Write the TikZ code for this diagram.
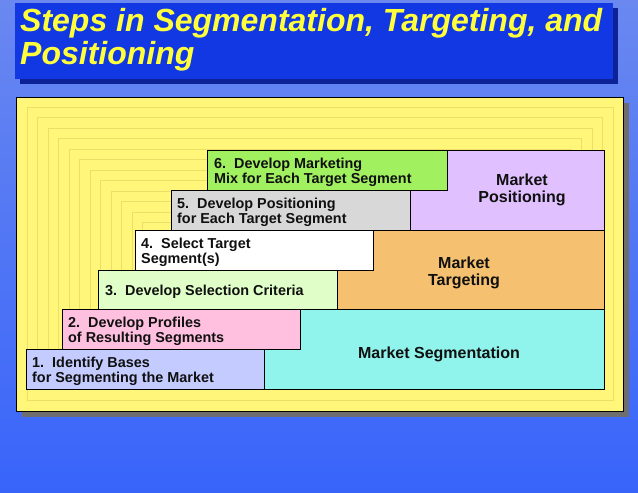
\documentclass[tikz,border=0pt]{standalone}
\usepackage{fontspec}
\setmainfont{Liberation Sans}
\definecolor{bgtop}{RGB}{106,136,240}
\definecolor{bgbot}{RGB}{56,100,250}
\definecolor{barc}{RGB}{18,56,228}
\definecolor{barshadow}{RGB}{12,34,150}
\definecolor{titlec}{RGB}{255,255,60}
\definecolor{panelc}{RGB}{255,246,122}
\definecolor{panelshadow}{RGB}{110,110,110}
\definecolor{gridc}{RGB}{236,222,104}
\definecolor{c1}{RGB}{196,204,255}
\definecolor{c2}{RGB}{255,192,224}
\definecolor{c3}{RGB}{224,255,200}
\definecolor{c4}{RGB}{255,255,255}
\definecolor{c5}{RGB}{216,216,216}
\definecolor{c6}{RGB}{160,240,96}
\definecolor{cpos}{RGB}{224,192,255}
\definecolor{ctar}{RGB}{245,192,112}
\definecolor{cseg}{RGB}{144,244,236}
\definecolor{textc}{RGB}{16,16,16}
\begin{document}
\begin{tikzpicture}[x=1pt,y=-1pt,
  boxnode/.style={draw=black, line width=0.8pt, rectangle, inner sep=0pt, anchor=north west},
  steptext/.style={anchor=north west, inner sep=0pt, align=left, text=textc,
    font=\fontsize{14.4}{15}\selectfont\bfseries},
  mlabel/.style={inner sep=0pt, align=center, text=textc,
    font=\fontsize{16}{17}\selectfont\bfseries},
  gline/.style={draw=gridc, line width=0.45pt}
]
\useasboundingbox (0,0) rectangle (638,493);
% background
\shade[top color=bgtop, bottom color=bgbot] (0,0) rectangle (638,493);
% title bar
\fill[barshadow] (20,8) rectangle (618,84);
\node[fill=barc, rectangle, inner sep=0pt, anchor=north west, minimum width=598pt, minimum height=76pt] (bar) at (15,3) {};
\node[anchor=north west, inner sep=0pt, align=left, text=titlec,
  font=\fontsize{32}{33}\selectfont\bfseries\itshape] (title) at (20,7)
  {\rule{0pt}{24pt}Steps in Segmentation, Targeting, and\\Positioning};
% panel
\fill[panelshadow] (22,103) rectangle (629,417);
\node[fill=panelc, draw=black, line width=0.8pt, rectangle, inner sep=0pt, anchor=north west,
  minimum width=607pt, minimum height=314pt] (panel) at (16,97) {};
\foreach \i in {0,...,13}
  \draw[gline] ({27+10.5*\i},{107+10.5*\i}) rectangle ({613-10.5*\i},{400-10.5*\i});
% market areas
\node[boxnode, fill=cpos, minimum width=194pt, minimum height=80pt] (pos) at (410,150) {};
\node[boxnode, fill=ctar, minimum width=267pt, minimum height=79pt] (tar) at (337,230) {};
\node[boxnode, fill=cseg, minimum width=340pt, minimum height=80pt] (seg) at (264,309) {};
% steps
\node[boxnode, fill=c6, minimum width=240pt, minimum height=40pt] (b6) at (207,150) {};
\node[boxnode, fill=c5, minimum width=239pt, minimum height=40pt] (b5) at (171,190) {};
\node[boxnode, fill=c4, minimum width=238pt, minimum height=40pt] (b4) at (135,230) {};
\node[boxnode, fill=c3, minimum width=239pt, minimum height=39pt] (b3) at (98,270) {};
\node[boxnode, fill=c2, minimum width=238pt, minimum height=40pt] (b2) at (62,309) {};
\node[boxnode, fill=c1, minimum width=238pt, minimum height=40pt] (b1) at (26,349) {};
% step texts
\node[steptext] (t6) at ([shift={(7pt,-8pt)}]b6.north west) {\rule{0pt}{10pt}6.~~Develop Marketing\\Mix for Each Target Segment};
\node[steptext] (t5) at ([shift={(6pt,-8pt)}]b5.north west) {\rule{0pt}{10pt}5.~~Develop Positioning\\for Each Target Segment};
\node[steptext] (t4) at ([shift={(6pt,-8pt)}]b4.north west) {\rule{0pt}{10pt}4.~~Select Target\\Segment(s)};
\node[steptext] (t3) at ([shift={(7pt,-15pt)}]b3.north west) {\rule{0pt}{10pt}3.~~Develop Selection Criteria};
\node[steptext] (t2) at ([shift={(6pt,-8pt)}]b2.north west) {\rule{0pt}{10pt}2.~~Develop Profiles\\of Resulting Segments};
\node[steptext] (t1) at ([shift={(6pt,-8pt)}]b1.north west) {\rule{0pt}{10pt}1.~~Identify Bases\\for Segmenting the Market};
% market labels
\node[mlabel] (lpos) at (522,190) {Market\\Positioning};
\node[mlabel] (ltar) at (464,273) {Market\\Targeting};
\node[mlabel, anchor=base] (lseg) at (439,358) {Market Segmentation};
\end{tikzpicture}
\end{document}
